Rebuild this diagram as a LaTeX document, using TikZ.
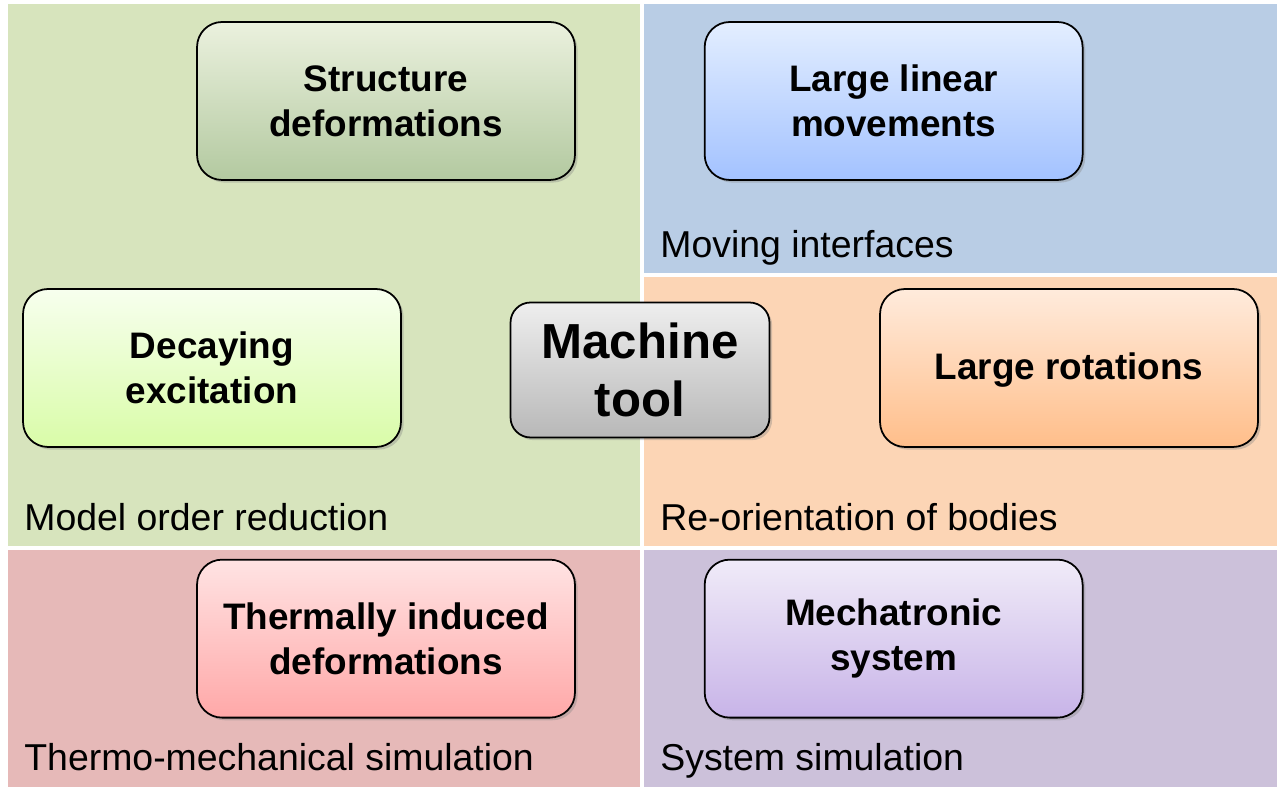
\documentclass[tikz,border=0pt]{standalone}
\usepackage{fontspec}
\setmainfont{Liberation Sans}
\usepackage{tikz}
\usetikzlibrary{positioning, shadows}
\definecolor{rgreen}{HTML}{D7E4BD}
\definecolor{rblue}{HTML}{B9CDE5}
\definecolor{rorange}{HTML}{FCD5B5}
\definecolor{rred}{HTML}{E6B9B8}
\definecolor{rpurple}{HTML}{CCC1DA}

\begin{document}
\begin{tikzpicture}[
  x=0.02cm, y=0.02cm,
  box/.style={rectangle, draw, line width=1pt, rounded corners=0.5cm,
              minimum width=7.56cm, minimum height=3.16cm, inner sep=0pt,
              align=center, font=\fontsize{21}{25.8}\selectfont\bfseries,
              drop shadow={shadow xshift=1.5pt, shadow yshift=-1.5pt, opacity=.35}},
  region/.style={anchor=base west, inner sep=0pt, font=\fontsize{21.3}{25}\selectfont},
]
\useasboundingbox (0,0) rectangle (1281,803);
% background areas
\fill[rgreen]  (8,257)   rectangle (640,799);
\fill[rblue]   (644,530) rectangle (1277,799);
\fill[rorange] (644,257) rectangle (1277,526);
\fill[rred]    (8,16)    rectangle (640,253);
\fill[rpurple] (644,16)  rectangle (1277,253);

\node[box, top color={rgb,255:red,235;green,241;blue,222}, bottom color={rgb,255:red,179;green,201;blue,160}]
  (struct) at (386,702) {Structure\\deformations};
\node[box, right=2.56cm of struct, top color={rgb,255:red,227;green,238;blue,255}, bottom color={rgb,255:red,163;green,194;blue,255}]
  (linear) {Large linear\\movements};
\node[box, top color={rgb,255:red,247;green,255;blue,238}, bottom color={rgb,255:red,217;green,252;blue,168}]
  (decay) at (212,435) {Decaying\\excitation};
\node[box, text depth=0.3ex, top color={rgb,255:red,255;green,235;blue,220}, bottom color={rgb,255:red,255;green,190;blue,138}]
  (rot) at (1069,435) {Large rotations};
\node[box, below=7.56cm of struct, top color={rgb,255:red,255;green,227;blue,227}, bottom color={rgb,255:red,255;green,168;blue,168}]
  (therm) {Thermally induced\\deformations};
\node[box, below=7.56cm of linear, top color={rgb,255:red,240;green,235;blue,248}, bottom color={rgb,255:red,200;green,180;blue,232}]
  (mech) {Mechatronic\\system};
\node[box, minimum width=5.18cm, minimum height=2.7cm, rounded corners=0.4cm,
      font=\fontsize{28}{33}\selectfont\bfseries,
      top color={rgb,255:red,238;green,238;blue,238}, bottom color={rgb,255:red,184;green,184;blue,184}]
  (tool) at (640,433) {Machine\\tool};

% area labels
\node[region] (lmove) at (660,545) {Moving interfaces};
\node[region] (lmor)  at (24,272)  {Model order reduction};
\node[region] (lreor) at (660,272) {Re-orientation of bodies};
\node[region] (lthm)  at (24,32)   {Thermo-mechanical simulation};
\node[region] (lsys)  at (660,32)  {System simulation};
\end{tikzpicture}
\end{document}
